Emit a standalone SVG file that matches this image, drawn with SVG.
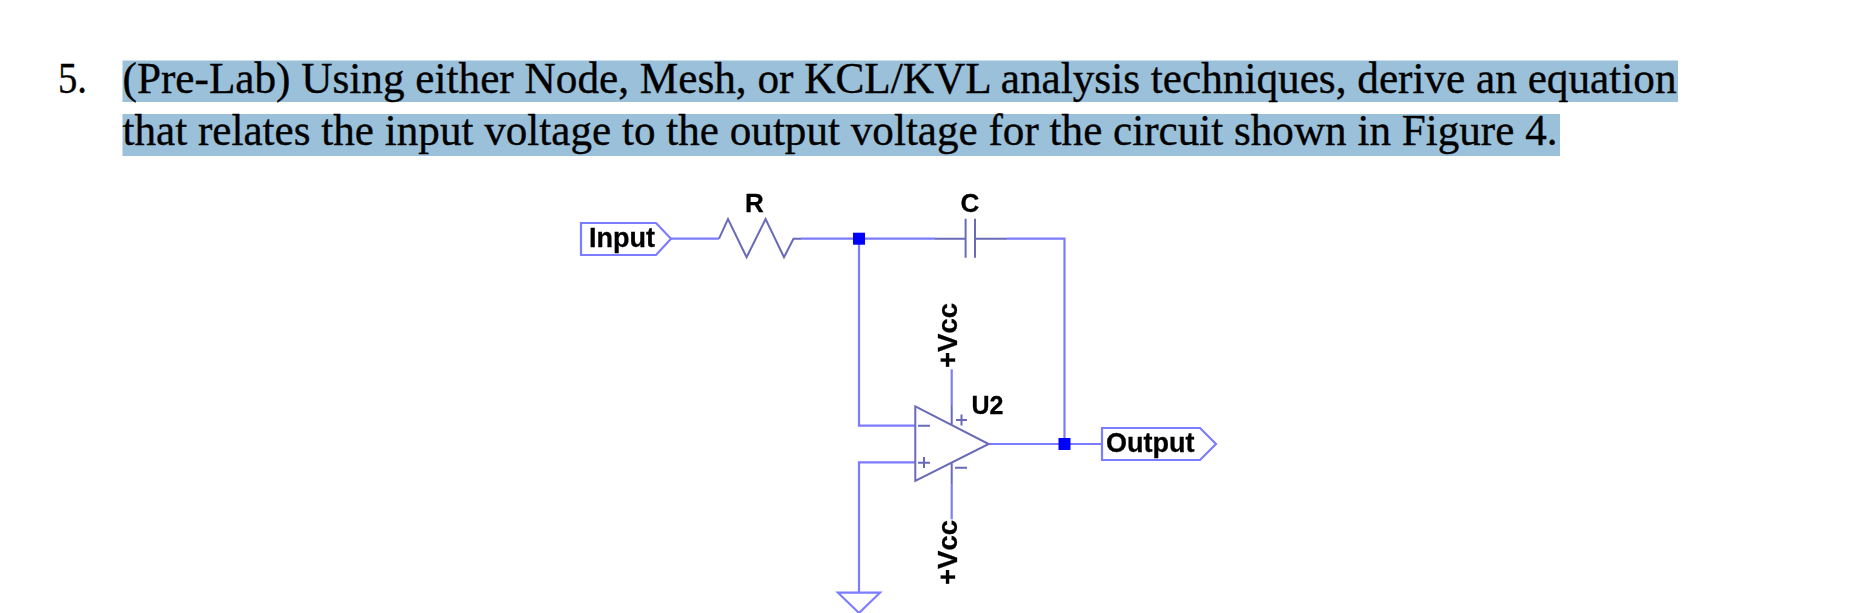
<svg xmlns="http://www.w3.org/2000/svg" width="1851" height="613" viewBox="0 0 1851 613">
<style>
.t{font-family:"Liberation Serif","Times New Roman",serif;font-size:45px;fill:#000;stroke:#000;stroke-width:.35}
.l{font-family:"Liberation Sans",Arial,sans-serif;font-weight:bold;fill:#000;stroke:#000;stroke-width:.3}
.w{fill:none;stroke:#7b7bff;stroke-width:2.200}
.c{fill:none;stroke:#6a6ab8;stroke-width:2}
.j{fill:#0000ff}
.s{filter:url(#soft)}
</style>
<defs><filter id="soft" x="-10%" y="-10%" width="120%" height="120%"><feGaussianBlur stdDeviation="0.500"/></filter></defs>
<rect width="1851" height="613" fill="#fff"/>
<g id="question">
<rect x="122.500" y="60.500" width="1555.500" height="41.500" fill="#9bc0da"/>
<rect x="122.500" y="114" width="1437.500" height="42" fill="#9bc0da"/>
<text class="t" x="58" y="92.500" textLength="29" lengthAdjust="spacingAndGlyphs">5.</text>
<text class="t" x="122.500" y="92.500" textLength="1554" lengthAdjust="spacingAndGlyphs">(Pre-Lab) Using either Node, Mesh, or KCL/KVL analysis techniques, derive an equation</text>
<text class="t" x="122.500" y="145" textLength="1435" lengthAdjust="spacingAndGlyphs">that relates the input voltage to the output voltage for the circuit shown in Figure 4.</text>
</g>
<g id="connectors" class="s">
<path class="w" d="M671 238.700H719"/>
<path class="w" d="M801 238.700H935"/>
<path class="w" d="M1007 238.700H1064.500V444"/>
<path class="w" d="M859 238.700V425.700H915.300"/>
<path class="w" d="M915.300 462.300H859V592.700"/>
<path class="w" d="M951.700 369.300V405"/>
<path class="w" d="M951.700 484V519.300"/>
<path class="w" d="M988.700 444H1102"/>
</g>
<g id="input" class="s"><path class="w" d="M581 223H656L671 238.700L656 255H581Z"/><text class="l" x="589" y="247" font-size="27">Input</text></g>
<g id="resistor" class="s"><path class="c" d="M719 238.700L728 219L746.600 257.300L765.600 219L784 257.300L793.500 238.700H801"/><text class="l" x="754.500" y="212" font-size="26" text-anchor="middle">R</text></g>
<g id="junction1" class="s"><rect class="j" x="853" y="232.700" width="12" height="12"/></g>
<g id="capacitor" class="s"><path class="c" d="M935 238.700H965.600M975 238.700H1007M965.600 218.700V257.700M975 218.700V257.700"/><text class="l" x="970" y="212" font-size="26" text-anchor="middle">C</text></g>
<g id="opamp" class="s">
<path class="c" d="M915.300 406.300L988.700 444L915.300 481ZM951.700 405V425M951.700 462.500V484M918 425.700H930M918 462.700H930M924 457V468M955 467.700H967M956 420H967M961.500 414.500V425.500"/>
<text class="l" x="971.500" y="414" font-size="25">U2</text>
</g>
<g id="vcc-top" class="s"><text class="l" font-size="27.500" transform="translate(956.700 368) rotate(-90)">+Vcc</text></g>
<g id="vcc-bottom" class="s"><text class="l" font-size="27.500" transform="translate(956.700 585) rotate(-90)">+Vcc</text></g>
<g id="junction2" class="s"><rect class="j" x="1058.500" y="438" width="12" height="12"/></g>
<g id="output" class="s"><path class="w" d="M1102 428H1200L1216 444L1200 460H1102Z"/><text class="l" x="1106" y="452" font-size="27">Output</text></g>
<g id="ground" class="s"><path class="w" d="M838 592.700H880L859 613Z"/></g>
</svg>
